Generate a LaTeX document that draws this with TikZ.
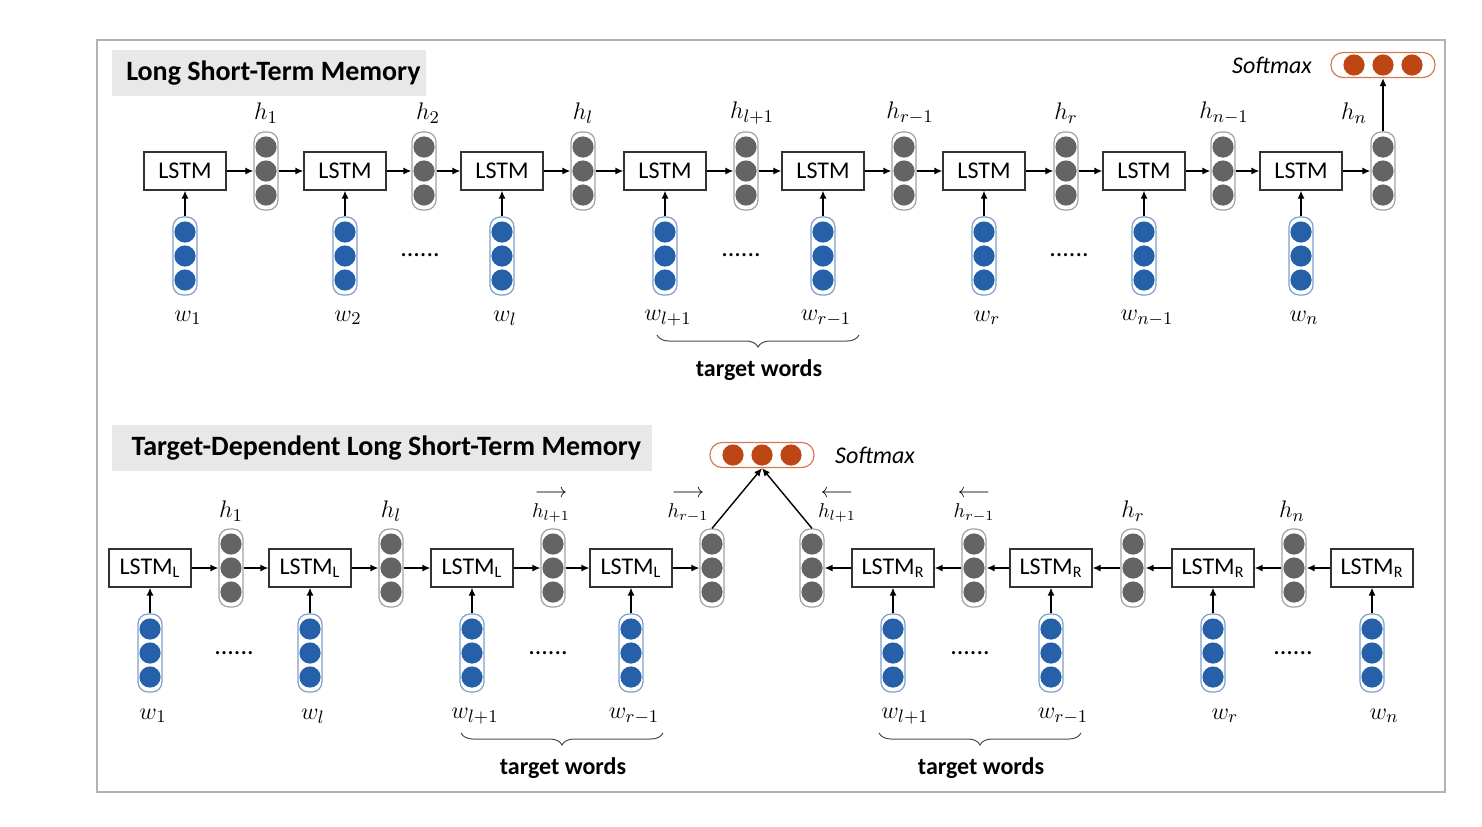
\documentclass[tikz,border=0pt]{standalone}
\usepackage{fontspec}
\setmainfont{Carlito}
\usetikzlibrary{arrows.meta,decorations.pathreplacing}
\definecolor{hgray}{RGB}{100,100,100}
\definecolor{wblue}{RGB}{38,96,168}
\definecolor{sorange}{RGB}{190,70,20}
\definecolor{sedge}{RGB}{215,120,80}
\definecolor{tgray}{RGB}{232,232,232}
\tikzset{
 lstm/.style={draw=black!80,line width=0.6pt,minimum width=41pt,minimum height=19pt,inner sep=0pt,font=\fontsize{12}{12}\selectfont},
 vbox/.style={draw=#1,rounded corners=5pt,line width=0.6pt,minimum width=12pt,minimum height=39pt,inner sep=0pt},
 hbox/.style={draw=#1,rounded corners=6pt,line width=0.6pt,minimum width=52pt,minimum height=12.5pt,inner sep=0pt},
 arr/.style={-{Latex[length=4pt,width=3.5pt]},line width=0.7pt},
 lab/.style={font=\fontsize{13}{13}\selectfont},
 dlab/.style={font=\fontsize{10}{10}\selectfont,align=center,inner sep=0pt},
 ttl/.style={fill=tgray,anchor=north west,inner sep=0pt,font=\fontsize{14}{14}\selectfont\bfseries},
 brc/.style={decorate,decoration={brace,amplitude=6pt,mirror},line width=0.5pt,draw=black!70},
}
\newcommand\vvec[4]{% name x y fill
 \node[vbox=#4!60!white] (#1) at (#2,#3) {};
 \foreach \d in {-24,0,24}{\fill[#4] (#2,#3+\d) circle (5.3pt);}
}
\newcommand\softmax[3]{%
 \node[hbox=sedge] (#1) at (#2,#3) {};
 \foreach \d in {-29,0,29}{\fill[sorange] (#2+\d,#3) circle (5.3pt);}
}
\newcommand\dirh[2]{$#1$\\[0pt]$#2$}
\begin{document}
\begin{tikzpicture}[x=0.5pt,y=-0.5pt]
\useasboundingbox (0,0) rectangle (1482,826);
\draw[black!30,line width=0.6pt] (97,40) rectangle (1445,792);
\node[ttl,minimum width=157pt,minimum height=23pt] (t1) at (112,50) {\hspace*{4pt}Long Short-Term Memory\hfill};
\node[ttl,minimum width=270pt,minimum height=23pt] (t2) at (112,425) {\hspace*{4pt}Target-Dependent Long Short-Term Memory\hfill};
% top row
\foreach \i/\lx/\hx/\wl/\hl/\hlx in {1/185/266/w_1/h_1/266,2/345/424/w_2/h_2/428,3/502/583/w_l/h_l/583,4/665/746/w_{l+1}/h_{l+1}/752,5/823/904/w_{r-1}/h_{r-1}/910,6/984/1066/w_r/h_r/1066,7/1144/1223/w_{n-1}/h_{n-1}/1224,8/1301/1383/w_n/h_n/1354}{
 \node[lstm] (L\i) at (\lx,171) {LSTM};
 \vvec{H\i}{\hx}{171}{hgray}
 \vvec{W\i}{\lx}{256}{wblue}
 \draw[arr] (W\i) -- (L\i);
 \draw[arr] (L\i) -- (H\i);
 \node[lab] (wl\i) at (\lx+3,318) {$\wl$};
 \node[lab] (hl\i) at (\hlx,113) {$\hl$};
}
\foreach \i [evaluate=\i as \j using int(\i+1)] in {1,...,7}{\draw[arr] (H\i) -- (L\j);}
\foreach \x [count=\k] in {420,741,1069}{\node[lab] (d\k) at (\x,255) {......};}
\draw[brc] (657,335) -- (859,335);
\node[lab,font=\fontsize{12}{12}\selectfont\bfseries] (tw1) at (759,370) {target words};
\softmax{S1}{1383}{65}
\node[lab,font=\fontsize{12}{12}\selectfont\itshape] (st1) at (1272,65) {Softmax};
\draw[arr] (H8) -- (S1);
% bottom row left
\foreach \i/\lx/\hx/\wl in {1/150/231/w_1,2/310/391/w_l,3/472/553/w_{l+1},4/631/712/w_{r-1}}{
 \node[lstm] (BL\i) at (\lx,568) {LSTM\textsubscript{L}};
 \vvec{BH\i}{\hx}{568}{hgray}
 \vvec{BW\i}{\lx}{653}{wblue}
 \draw[arr] (BW\i) -- (BL\i);
 \draw[arr] (BL\i) -- (BH\i);
 \node[lab] (bwl\i) at (\lx+3,716) {$\wl$};
}
\foreach \i [evaluate=\i as \j using int(\i+1)] in {1,2,3}{\draw[arr] (BH\i) -- (BL\j);}
\node[lab] (bhl1) at (231,511) {$h_1$};
\node[lab] (bhl2) at (391,511) {$h_l$};
\node[dlab] (bhl3) at (551,506) {\dirh{\longrightarrow}{h_{l+1}}};
\node[dlab] (bhl4) at (688,506) {\dirh{\longrightarrow}{h_{r-1}}};
% bottom row right
\foreach \i/\lx/\hx/\wl in {1/893/812/w_{l+1},2/1051/974/w_{r-1},3/1213/1133/w_r,4/1372/1294/w_n}{
 \node[lstm] (BR\i) at (\lx,568) {LSTM\textsubscript{R}};
 \vvec{RH\i}{\hx}{568}{hgray}
 \vvec{RW\i}{\lx}{653}{wblue}
 \draw[arr] (RW\i) -- (BR\i);
 \draw[arr] (BR\i) -- (RH\i);
 \node[lab] (rwl\i) at (\lx+12,716) {$\wl$};
}
\foreach \i [evaluate=\i as \j using int(\i+1)] in {1,2,3}{\draw[arr] (RH\j) -- (BR\i);}
\node[dlab] (rhl1) at (837,506) {\dirh{\longleftarrow}{h_{l+1}}};
\node[dlab] (rhl2) at (974,506) {\dirh{\longleftarrow}{h_{r-1}}};
\node[lab] (rhl3) at (1133,511) {$h_r$};
\node[lab] (rhl4) at (1292,511) {$h_n$};
\foreach \x [count=\k] in {234,548,970,1293}{\node[lab] (bd\k) at (\x,653) {......};}
\draw[brc] (461,733) -- (663,733);
\draw[brc] (879,733) -- (1081,733);
\node[lab,font=\fontsize{12}{12}\selectfont\bfseries] (tw2) at (563,768) {target words};
\node[lab,font=\fontsize{12}{12}\selectfont\bfseries] (tw3) at (981,768) {target words};
\softmax{S2}{762}{455}
\node[lab,font=\fontsize{12}{12}\selectfont\itshape] (st2) at (875,455) {Softmax};
\draw[arr] (BH4.north) -- (S2.south);
\draw[arr] (RH1.north) -- (S2.south);
\end{tikzpicture}
\end{document}
